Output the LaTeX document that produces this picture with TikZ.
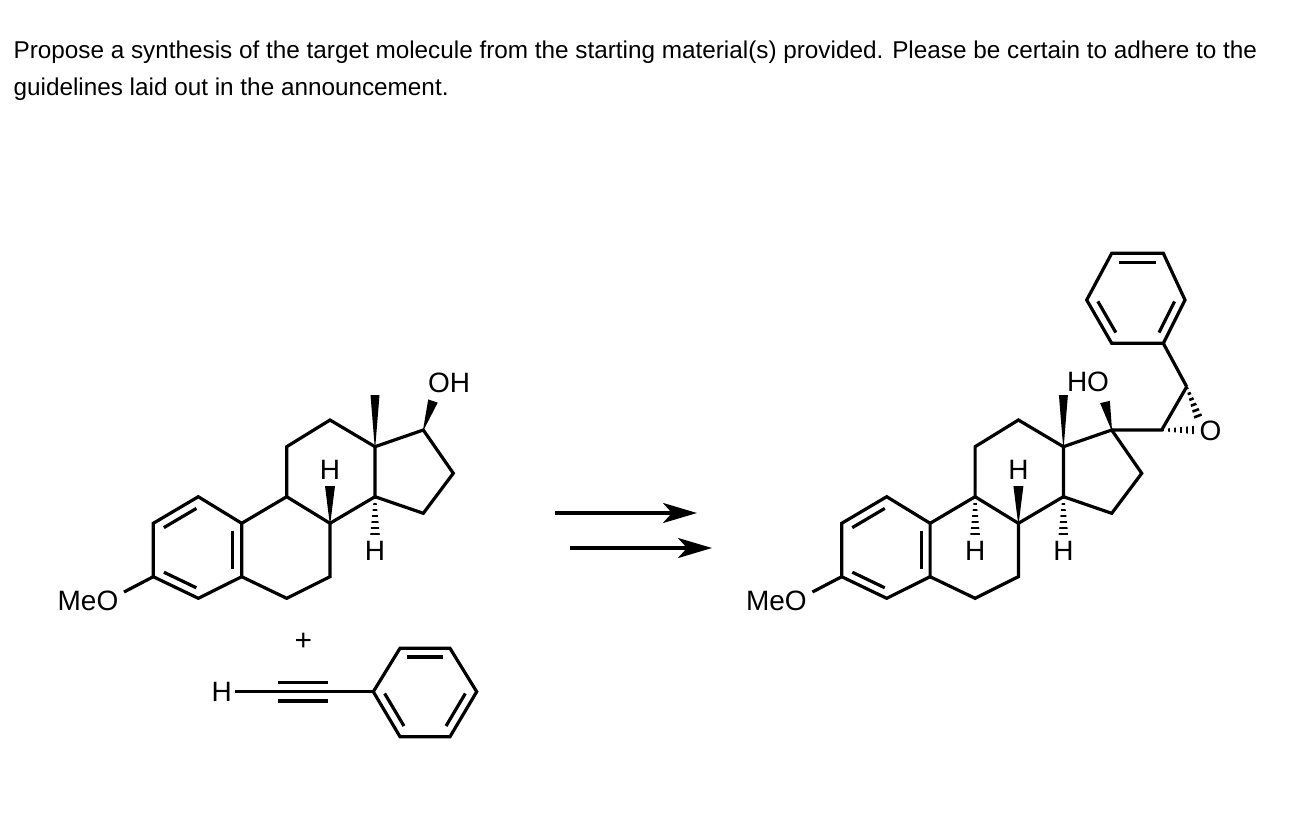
\documentclass[tikz,border=0pt]{standalone}
\usepackage{fontspec}
\setmainfont{Liberation Sans}
\usetikzlibrary{calc,arrows.meta}
\newcommand\wdg[3]{\fill ($(#1)!0.3pt!90:(#2)$) -- ($(#1)!0.3pt!-90:(#2)$) -- ($(#2)!#3!90:(#1)$) -- ($(#2)!#3!-90:(#1)$) -- cycle;}
\newcommand\hsh[3]{\begin{scope}\clip ($(#1)!1pt!90:(#2)$) -- ($(#1)!1pt!-90:(#2)$) -- ($(#2)!#3!90:(#1)$) -- ($(#2)!#3!-90:(#1)$) -- cycle; \draw[line width=2*#3, dash pattern=on 2.6pt off 3.4pt] (#1) -- (#2);\end{scope}}
\newcommand\dbl[3]{\draw[shorten <=2pt,shorten >=2pt] ($(#1)!0.2!(#3)$) -- ($(#2)!0.2!(#3)$);}
\newcommand\steroid{%
  \coordinate (C3) at (153.3,576.7); \coordinate (C4) at (198.3,598.3);
  \coordinate (C5) at (241.7,576.7); \coordinate (C10) at (241.7,523.3);
  \coordinate (C1) at (198.3,496.7); \coordinate (C2) at (153.3,523.3);
  \coordinate (C6) at (286.7,598.3); \coordinate (C7) at (330,576.7);
  \coordinate (C8) at (330,523.3); \coordinate (C9) at (286.7,496.7);
  \coordinate (C11) at (286.7,446.7); \coordinate (C12) at (330,420);
  \coordinate (C13) at (375,446.7); \coordinate (C14) at (375,496.7);
  \coordinate (C15) at (423.3,513.3); \coordinate (C16) at (453.3,473.3);
  \coordinate (C17) at (423.3,430); \coordinate (CA) at (197.5,550);
  \coordinate (OMe) at (124,592);
  \draw (C1)--(C2)--(C3)--(C4)--(C5)--(C10)--cycle;
  \dbl{C1}{C2}{CA}\dbl{C10}{C5}{CA}\dbl{C3}{C4}{CA}
  \draw (C5)--(C6)--(C7)--(C8)--(C9)--(C10);
  \draw (C9)--(C11)--(C12)--(C13)--(C14)--(C8);
  \draw (C13)--(C17)--(C16)--(C15)--(C14);
  \draw (C3)--(OMe);
  \node[lab] (meo) at (88,601) {MeO};
  \coordinate (Me) at (375,395); \wdg{C13}{Me}{4.5pt}
  \coordinate (H8) at (330,486); \wdg{C8}{H8}{5pt}
  \node[lab] (h8) at (330,470) {H};
  \coordinate (H14) at (375,537); \hsh{C14}{H14}{5pt}
  \node[lab] (h14) at (375,551) {H};
}
\begin{document}
\begin{tikzpicture}[x=1pt,y=-1pt,line width=3.2pt,line join=miter,
  lab/.style={font=\fontsize{28}{28}\selectfont,inner sep=0pt},
  arr/.style={line width=3.4pt,-{Stealth[length=34pt,width=20pt,inset=9pt]}}]
\useasboundingbox (0,0) rectangle (1314,822);
\node[anchor=base west,inner sep=0pt,font=\fontsize{24.3}{24.3}\selectfont] (t1) at (12,58) {Propose a synthesis of the target molecule from the starting material(s) provided. Please be certain to adhere to the};
\node[anchor=base west,inner sep=0pt,font=\fontsize{24.3}{24.3}\selectfont] (t2) at (12,95) {guidelines laid out in the announcement.};
% left steroid
\begin{scope}
\steroid
\coordinate (OHe) at (433,401); \wdg{C17}{OHe}{5pt}
\node[lab] (oh) at (449,383) {OH};
\end{scope}
% right steroid
\begin{scope}[shift={(688.4,0)}]
\steroid
\coordinate (H9) at (286.7,537); \hsh{C9}{H9}{5pt}
\node[lab] (h9) at (286.7,551) {H};
\coordinate (HOe) at (416.6,402); \wdg{C17}{HOe}{5pt}
\node[lab] (ho) at (399.6,382) {HO};
\coordinate (E1) at (473.3,430); \coordinate (E2) at (498.3,386.7);
\node[lab] (eo) at (522,431) {O};
\coordinate (EO) at (509,430);
\draw (C17)--(E1)--(E2);
\hsh{E1}{EO}{4.5pt}
\coordinate (EO2) at (511,420); \hsh{E2}{EO2}{4.5pt}
\coordinate (P1) at (474.9,343.3); \coordinate (P2) at (496.6,300);
\coordinate (P3) at (474.9,253.3); \coordinate (P4) at (423.3,253.3);
\coordinate (P5) at (398.3,300); \coordinate (P6) at (423.3,343.3);
\coordinate (PC) at (449,298.3);
\draw (E2)--(P1);
\draw (P1)--(P2)--(P3)--(P4)--(P5)--(P6)--cycle;
\dbl{P3}{P4}{PC}\dbl{P1}{P2}{PC}\dbl{P5}{P6}{PC}
\end{scope}
% arrows
\coordinate (a1) at (555,513); \coordinate (a2) at (697,513);
\coordinate (b1) at (570,548); \coordinate (b2) at (712,548);
\draw[arr] (a1)--(a2);
\draw[arr] (b1)--(b2);
% plus and phenylacetylene
\node[lab,font=\fontsize{30}{30}\selectfont] (plus) at (303.3,641.7) {+};
\node[lab] (hh) at (221.7,692) {H};
\coordinate (Hb) at (235,691.7); \coordinate (T1) at (278.3,691.7);
\coordinate (T2) at (328.3,691.7);
\coordinate (Q1) at (373.3,691.7); \coordinate (Q2) at (400,648.3);
\coordinate (Q3) at (450,648.3); \coordinate (Q4) at (476.7,691.7);
\coordinate (Q5) at (450,736.7); \coordinate (Q6) at (400,736.7);
\coordinate (QC) at (425,692);
\draw (Hb)--(Q1);
\draw ($(T1)+(0,-9)$)--($(T2)+(0,-9)$);
\draw ($(T1)+(0,9.3)$)--($(T2)+(0,9.3)$);
\draw (Q1)--(Q2)--(Q3)--(Q4)--(Q5)--(Q6)--cycle;
\dbl{Q2}{Q3}{QC}\dbl{Q4}{Q5}{QC}\dbl{Q6}{Q1}{QC}
\end{tikzpicture}
\end{document}
